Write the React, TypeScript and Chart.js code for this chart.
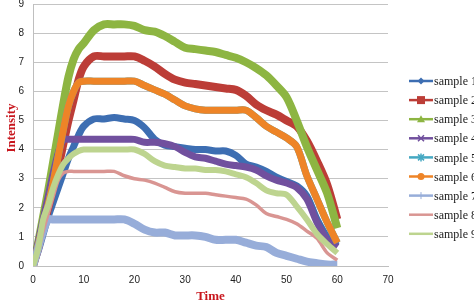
import React, { useEffect, useRef } from "react";
import { Chart, registerables } from "chart.js";

Chart.register(...registerables);

const time = [0, 1, 2, 3, 4, 5, 6, 7, 8, 9, 10, 12, 14, 16, 18, 20, 22, 24, 26, 28, 30, 32, 34, 36, 38, 40, 42, 44, 46, 48, 50, 52, 54, 56, 58, 60];

const sample1 = [0, 0.5, 1.1, 1.7, 2.2, 2.7, 3.2, 3.7, 4.1, 4.5, 4.8, 5.05, 5.05, 5.1, 5.05, 5.0, 4.75, 4.35, 4.15, 4.1, 4.05, 4.0, 4.0, 3.95, 3.95, 3.8, 3.5, 3.4, 3.25, 3.05, 2.9, 2.75, 2.4, 1.6, 1.0, 0.7];
const sample2 = [0, 0.6, 1.3, 2.0, 2.7, 3.4, 4.2, 5.0, 5.7, 6.4, 6.85, 7.2, 7.2, 7.2, 7.2, 7.2, 7.05, 6.85, 6.6, 6.4, 6.3, 6.25, 6.2, 6.15, 6.1, 6.05, 5.85, 5.55, 5.35, 5.2, 5.0, 4.8, 4.3, 3.6, 2.8, 1.6];
const sample3 = [0, 0.8, 1.7, 2.6, 3.6, 4.6, 5.6, 6.5, 7.1, 7.45, 7.65, 8.1, 8.3, 8.3, 8.3, 8.25, 8.1, 8.05, 7.9, 7.7, 7.5, 7.45, 7.4, 7.35, 7.25, 7.15, 7.0, 6.8, 6.55, 6.2, 5.8, 5.0, 4.1, 3.3, 2.5, 1.3];
const sample4 = [0, 0.8, 1.6, 2.4, 3.2, 3.9, 4.35, 4.35, 4.35, 4.35, 4.35, 4.35, 4.35, 4.35, 4.35, 4.35, 4.25, 4.25, 4.2, 4.1, 3.9, 3.75, 3.7, 3.6, 3.5, 3.45, 3.4, 3.3, 3.1, 2.95, 2.85, 2.7, 2.3, 1.5, 0.9, 0.65];
const sample5 = [0, 0.7, 1.4, 2.1, 2.9, 3.8, 4.7, 5.5, 6.0, 6.3, 6.35, 6.35, 6.35, 6.35, 6.35, 6.35, 6.2, 6.05, 5.9, 5.7, 5.5, 5.4, 5.35, 5.35, 5.35, 5.35, 5.35, 5.1, 4.8, 4.6, 4.4, 4.1, 3.1, 2.3, 1.5, 0.8];
const sample6 = [0, 0.7, 1.4, 2.1, 2.9, 3.8, 4.7, 5.5, 6.0, 6.3, 6.35, 6.35, 6.35, 6.35, 6.35, 6.35, 6.2, 6.05, 5.9, 5.7, 5.5, 5.4, 5.35, 5.35, 5.35, 5.35, 5.35, 5.1, 4.8, 4.6, 4.4, 4.1, 3.1, 2.3, 1.5, 0.8];
const sample7 = [0, 0.6, 1.2, 1.6, 1.6, 1.6, 1.6, 1.6, 1.6, 1.6, 1.6, 1.6, 1.6, 1.6, 1.6, 1.45, 1.25, 1.15, 1.15, 1.05, 1.05, 1.05, 1.0, 0.9, 0.9, 0.9, 0.8, 0.7, 0.65, 0.45, 0.35, 0.25, 0.15, 0.1, 0.05, 0.05];
const sample8 = [0, 0.5, 1.2, 1.8, 2.4, 2.95, 3.2, 3.25, 3.25, 3.25, 3.25, 3.25, 3.25, 3.25, 3.1, 3.0, 2.95, 2.85, 2.7, 2.55, 2.5, 2.5, 2.5, 2.45, 2.4, 2.35, 2.3, 2.1, 1.8, 1.7, 1.6, 1.45, 1.2, 0.95, 0.45, 0.2];
const sample9 = [0, 0.6, 1.6, 2.1, 2.7, 3.15, 3.5, 3.7, 3.85, 3.95, 4.0, 4.0, 4.0, 4.0, 4.0, 4.0, 3.85, 3.6, 3.45, 3.4, 3.35, 3.35, 3.3, 3.3, 3.25, 3.15, 3.05, 2.85, 2.6, 2.5, 2.45, 2.05, 1.6, 1.1, 0.75, 0.45];

const seriesNames = ["sample 1", "sample 2", "sample 3", "sample 4", "sample 5", "sample 6", "sample 7", "sample 8", "sample 9"];
const seriesValues = [sample1, sample2, sample3, sample4, sample5, sample6, sample7, sample8, sample9];
const seriesColors = ["#3D6EB2", "#BC3D37", "#8DB542", "#71509E", "#45A8C2", "#EE8427", "#97ADD9", "#D99592", "#BDD48F"];
const seriesWidths = [7, 8, 8, 7, 7, 7, 8, 3.5, 6];
const markers = ["diamond", "square", "triangle", "x", "star", "circle", "plus", "none", "none"];

const xTicks = [0, 10, 20, 30, 40, 50, 60, 70];
const yTicks = [0, 1, 2, 3, 4, 5, 6, 7, 8, 9];
const xTitle = "Time";
const yTitle = "Intensity";

function drawMarker(ctx: CanvasRenderingContext2D, kind: string, x: number, y: number, color: string) {
  ctx.save();
  ctx.fillStyle = color;
  ctx.strokeStyle = color;
  ctx.lineWidth = 1.5;
  ctx.beginPath();
  if (kind === "diamond") {
    ctx.moveTo(x, y - 3.5); ctx.lineTo(x + 3.5, y); ctx.lineTo(x, y + 3.5); ctx.lineTo(x - 3.5, y); ctx.closePath(); ctx.fill();
  } else if (kind === "square") {
    ctx.rect(x - 4, y - 4, 8, 8); ctx.fill();
  } else if (kind === "triangle") {
    ctx.moveTo(x, y - 4); ctx.lineTo(x + 4, y + 3); ctx.lineTo(x - 4, y + 3); ctx.closePath(); ctx.fill();
  } else if (kind === "x") {
    ctx.moveTo(x - 3, y - 3); ctx.lineTo(x + 3, y + 3); ctx.moveTo(x + 3, y - 3); ctx.lineTo(x - 3, y + 3); ctx.stroke();
  } else if (kind === "star") {
    ctx.moveTo(x - 3, y - 3); ctx.lineTo(x + 3, y + 3); ctx.moveTo(x + 3, y - 3); ctx.lineTo(x - 3, y + 3);
    ctx.moveTo(x, y - 4); ctx.lineTo(x, y + 4); ctx.stroke();
  } else if (kind === "circle") {
    ctx.arc(x, y, 3.5, 0, Math.PI * 2); ctx.fill();
  } else if (kind === "plus") {
    ctx.lineWidth = 1;
    ctx.moveTo(x, y - 3.5); ctx.lineTo(x, y + 3.5); ctx.stroke();
  }
  ctx.restore();
}

const decorPlugin = {
  id: "decor",
  afterDraw(chart: any) {
    const ctx: CanvasRenderingContext2D = chart.ctx;
    const area = chart.chartArea;
    ctx.save();
    // axis titles
    ctx.fillStyle = "#C8161D";
    ctx.font = "bold 13px 'Liberation Serif'";
    ctx.textAlign = "center";
    ctx.textBaseline = "middle";
    ctx.fillText(xTitle, (area.left + area.right) / 2, 297);
    ctx.save();
    ctx.translate(12, 128);
    ctx.rotate(-Math.PI / 2);
    ctx.fillText(yTitle, 0, 0);
    ctx.restore();
    // legend
    ctx.font = "12px 'Liberation Serif'";
    ctx.textAlign = "left";
    seriesNames.forEach((name, i) => {
      const y = 81 + i * 19.1;
      ctx.strokeStyle = seriesColors[i];
      ctx.lineWidth = 2.5;
      ctx.beginPath();
      ctx.moveTo(409, y);
      ctx.lineTo(433, y);
      ctx.stroke();
      drawMarker(ctx, markers[i], 421, y, seriesColors[i]);
      ctx.fillStyle = "#1a1a1a";
      ctx.fillText(name, 434, y + 1);
    });
    ctx.restore();
  },
};

export default function App() {
  const ref = useRef<HTMLCanvasElement | null>(null);
  useEffect(() => {
    if (!ref.current) return;
    const chart = new Chart(ref.current, {
      type: "line",
      data: {
        labels: time,
        datasets: seriesNames.map((name, i) => ({
          label: name,
          data: time.map((t, j) => ({ x: t, y: seriesValues[i][j] })),
          borderColor: seriesColors[i],
          backgroundColor: seriesColors[i],
          borderWidth: seriesWidths[i],
          pointRadius: 0,
          tension: 0.3,
          borderJoinStyle: "round" as const,
          fill: false,
          order: 9 - i,
        })),
      },
      options: {
        animation: false,
        responsive: false,
        maintainAspectRatio: false,
        layout: { padding: { top: 4, right: 86, left: 0, bottom: 0 } },
        plugins: { legend: { display: false }, tooltip: { enabled: false } },
        scales: {
          x: {
            type: "linear",
            min: 0,
            max: 70,
            afterBuildTicks: (scale: any) => {
              scale.ticks = xTicks.map((v) => ({ value: v }));
            },
            afterFit: (scale: any) => {
              scale.height = 37;
              scale.paddingLeft = 0;
              scale.paddingRight = 0;
            },
            grid: { display: false, drawTicks: false },
            border: { display: true, color: "#BFBFBF", width: 1 },
            ticks: {
              padding: 8,
              color: "#222",
              font: { family: "'Liberation Sans'", size: 10 },
              maxRotation: 0,
            },
          },
          y: {
            type: "linear",
            min: 0,
            max: 9,
            afterBuildTicks: (scale: any) => {
              scale.ticks = yTicks.map((v) => ({ value: v }));
            },
            afterFit: (scale: any) => {
              scale.width = 33;
              scale.paddingTop = 0;
              scale.paddingBottom = 0;
            },
            grid: { color: "#C4C4C4", lineWidth: 1, drawTicks: false },
            border: { display: true, color: "#BFBFBF", width: 1 },
            ticks: {
              padding: 9,
              color: "#222",
              font: { family: "'Liberation Sans'", size: 10 },
            },
          },
        },
      },
      plugins: [decorPlugin],
    });
    return () => chart.destroy();
  }, []);
  return (
    <div style={{ position: "fixed", left: 0, top: 0, width: 474, height: 303, background: "#fff" }}>
      <canvas ref={ref} width={474} height={303} style={{ width: 474, height: 303 }} />
    </div>
  );
}
